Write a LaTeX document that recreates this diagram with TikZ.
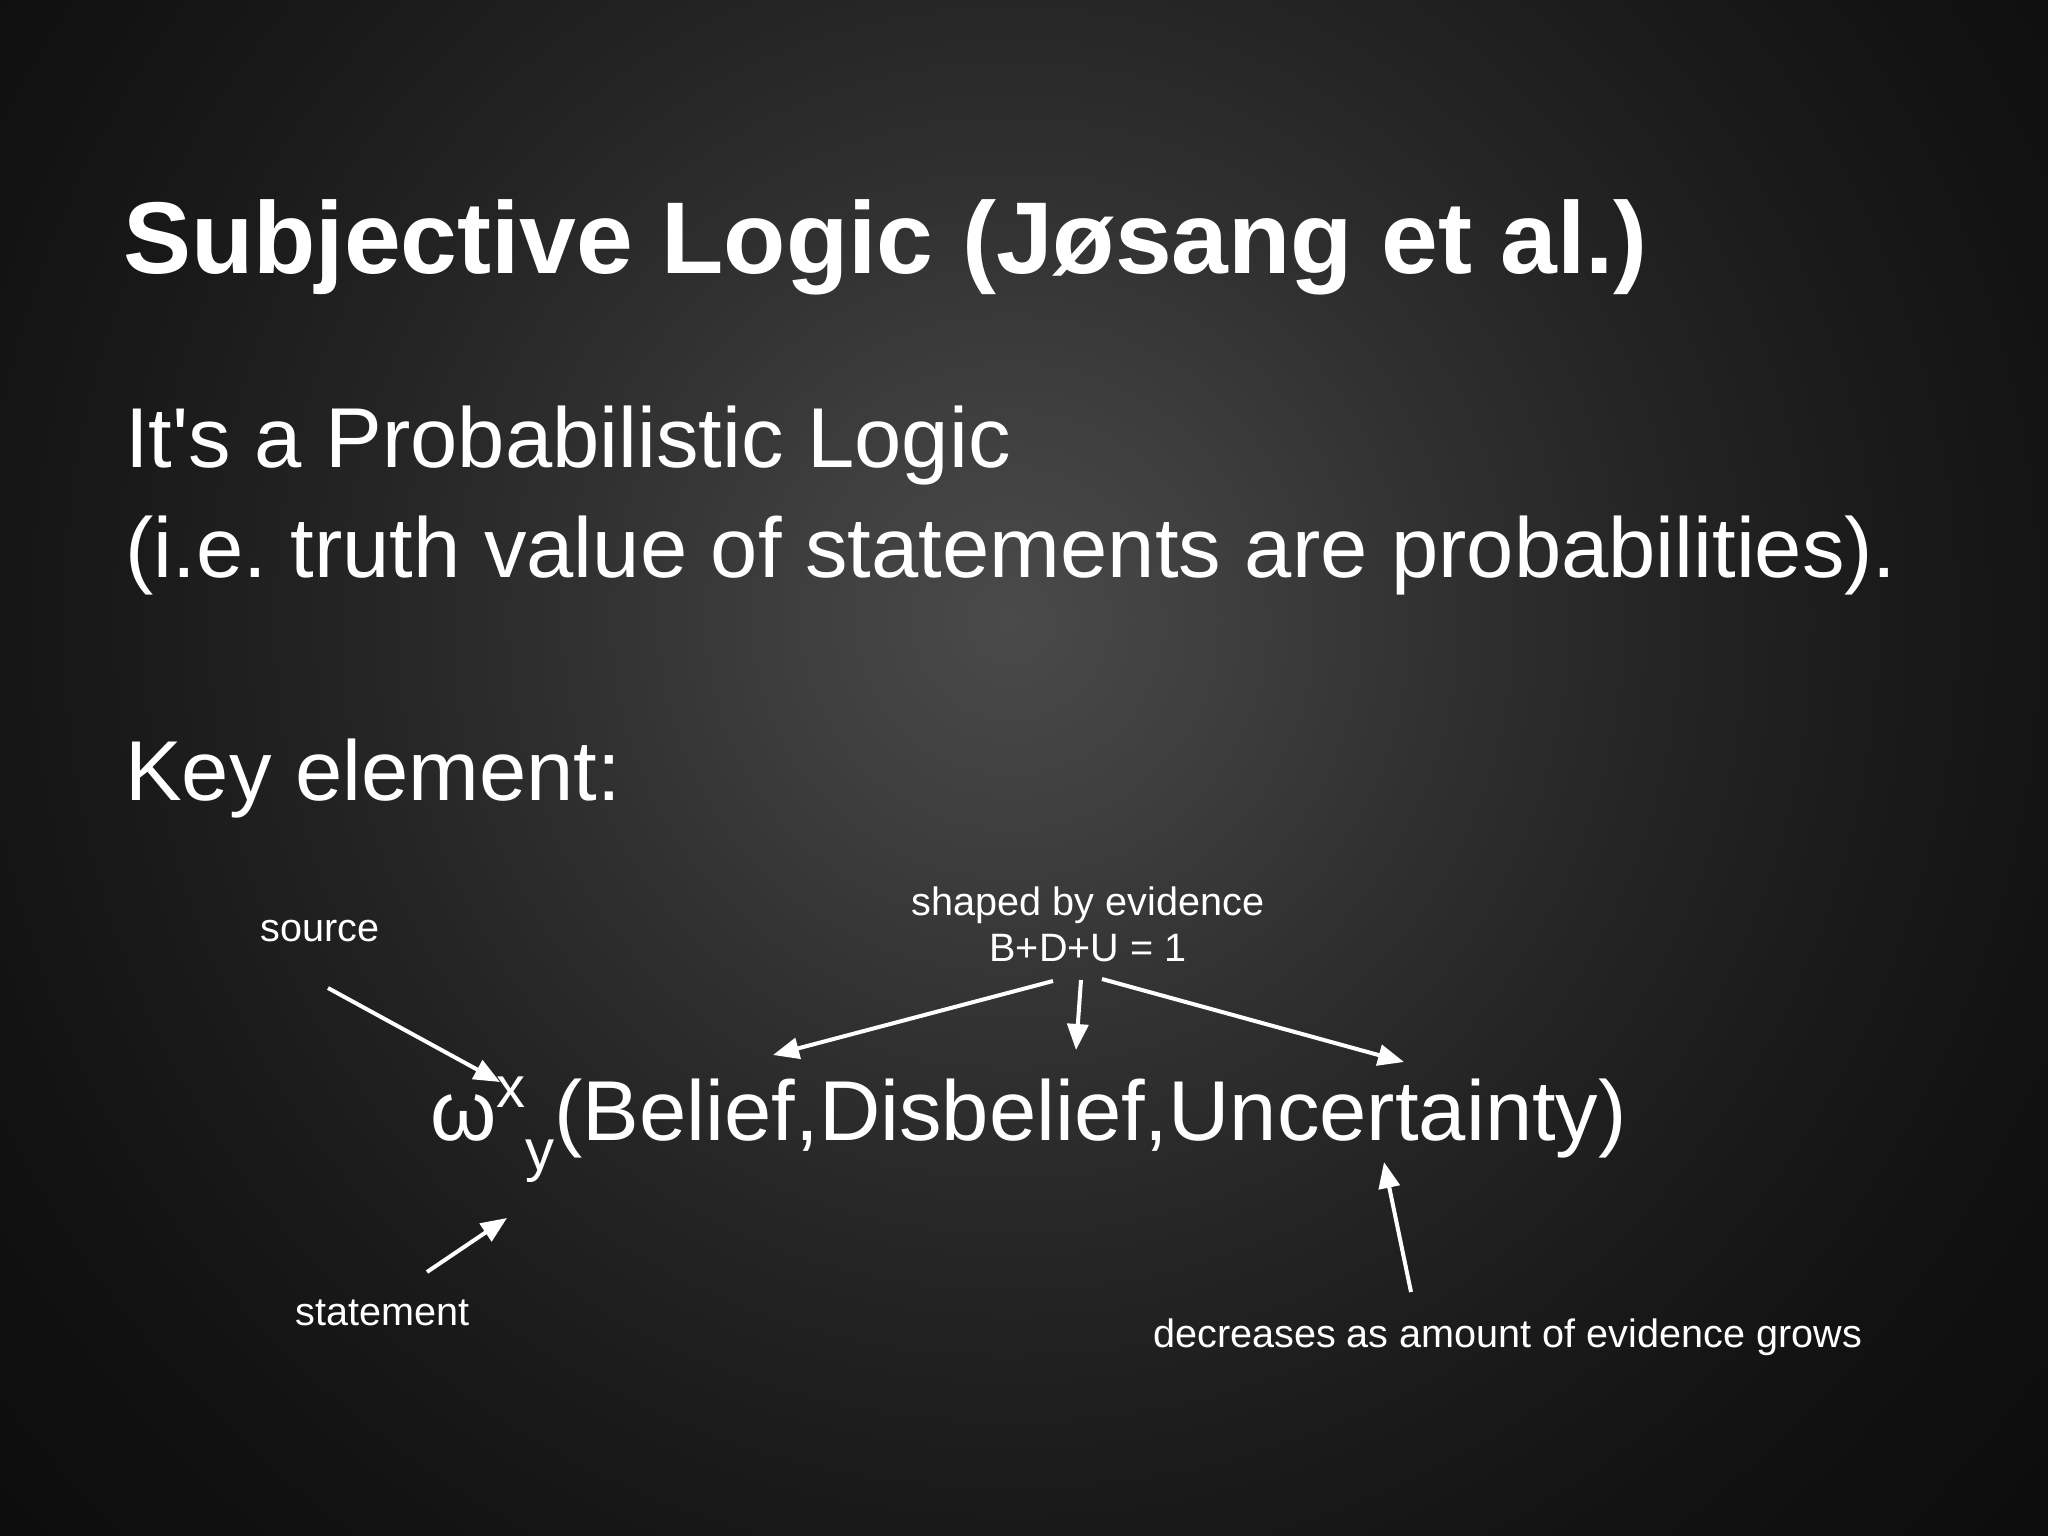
\documentclass[tikz,border=0pt]{standalone}
\usepackage{fontspec}
\setmainfont{Liberation Sans}[Ligatures=TeXOff]
\usetikzlibrary{arrows.meta}
\definecolor{bg0}{HTML}{4A4A4A}
\definecolor{bg1}{HTML}{3E3E3E}
\definecolor{bg2}{HTML}{303030}
\definecolor{bg3}{HTML}{242424}
\definecolor{bg4}{HTML}{1A1A1A}
\definecolor{bg5}{HTML}{121212}
\definecolor{bgout}{HTML}{0C0C0C}
\pgfdeclareradialshading{bgglow}{\pgfpoint{0bp}{0bp}}{color(0bp)=(bg0); color(3.93bp)=(bg1); color(7.86bp)=(bg2); color(11.79bp)=(bg3); color(15.71bp)=(bg4); color(19.64bp)=(bg5); color(25bp)=(bgout); color(50bp)=(bgout)}
\frenchspacing
\begin{document}
\begin{tikzpicture}[x=1pt,y=-1pt,
  title/.style={font=\fontsize{102}{120}\selectfont\bfseries, text=white, inner sep=0pt, anchor=base west},
  body/.style={font=\fontsize{85}{100}\selectfont, text=white, inner sep=0pt, anchor=base west},
  small/.style={font=\fontsize{39.6}{46}\selectfont, text=white, inner sep=0pt},
  pointer/.style={draw=white, line width=4pt, -{Triangle[length=26pt,width=21pt]}}]
\useasboundingbox (0,0) rectangle (2048,1536);
\fill[bgout] (0,0) rectangle (2048,1536);
\begin{scope}
\clip (0,0) rectangle (2048,1536);
\shade[shading=bgglow] (-390,-780) rectangle (2410,2020);
\end{scope}
% text
\node[title] (ttl) at (123,273) {Subjective Logic (Jøsang et al.)};
\node[body] (l1) at (125,467) {It's a Probabilistic Logic};
\node[body] (l2) at (125,577) {(i.e. truth value of statements are probabilities).};
\node[body] (l3) at (125,800) {Key element:};
\node[body] (f) at (430,1140) {ω\raisebox{33pt}{\fontsize{58}{60}\selectfont x}\raisebox{-30pt}{\fontsize{58}{60}\selectfont y}(Belief,Disbelief,Uncertainty)};
\node[small, anchor=base west] (src) at (260,941) {source};
\node[small, anchor=base west] (stm) at (295,1325) {statement};
\node[small, anchor=base] (ev1) at (1088,915) {shaped by evidence};
\node[small, anchor=base] (ev2) at (1088,961) {B+D+U = 1};
\node[small, anchor=base west] (dec) at (1153,1347) {decreases as amount of evidence grows};
% connector ends
\coordinate (srcA) at (328,988);
\coordinate (srcB) at (500,1082);
\coordinate (stmA) at (427,1272);
\coordinate (stmB) at (507,1218);
\coordinate (evL) at (1053,981);
\coordinate (evM) at (1081,980);
\coordinate (evR) at (1102,979);
\coordinate (tB) at (773,1055);
\coordinate (tD) at (1076,1050);
\coordinate (tU) at (1404,1062);
\coordinate (decA) at (1411,1292);
\coordinate (decB) at (1384,1162);
\draw[pointer] (srcA) -- (srcB);
\draw[pointer] (stmA) -- (stmB);
\draw[pointer] (evL) -- (tB);
\draw[pointer] (evM) -- (tD);
\draw[pointer] (evR) -- (tU);
\draw[pointer] (decA) -- (decB);
\end{tikzpicture}
\end{document}
